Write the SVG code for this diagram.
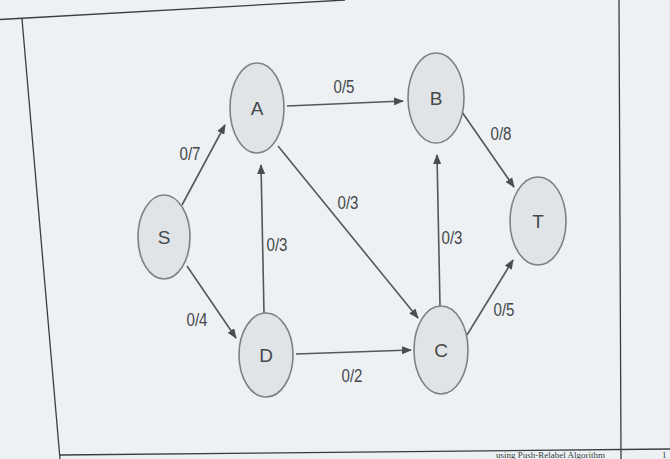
<svg xmlns="http://www.w3.org/2000/svg" width="670" height="459" viewBox="0 0 670 459">
<defs>
<marker id="ah" markerWidth="10" markerHeight="8" refX="9" refY="4" orient="auto" markerUnits="userSpaceOnUse">
<path d="M0,0 L10,4 L0,8 Z" fill="#4a4d50"/>
</marker>
<style>
.node ellipse{fill:#e1e4e6;stroke:#7d8184;stroke-width:1.6}
.node text{font-family:"Liberation Sans",sans-serif;font-size:19px;fill:#45484b;text-anchor:middle;dominant-baseline:central}
.edge line{stroke:#55585b;stroke-width:1.6;marker-end:url(#ah)}
.lbl{font-family:"Liberation Sans",sans-serif;font-size:18px;fill:#45484b;text-anchor:middle;dominant-baseline:central}
.rule{stroke:#3a3d40;stroke-width:1.3;fill:none}
.foot{font-family:"Liberation Serif",serif;font-size:9px;fill:#3a3d40}
</style>
</defs>
<rect width="670" height="459" fill="#edf1f3"/>
<g id="table">
<line class="rule" x1="0" y1="19.5" x2="345" y2="0"/>
<line class="rule" x1="22" y1="19" x2="60" y2="459"/>
<line class="rule" x1="619" y1="0" x2="621" y2="459"/>
<line class="rule" x1="60" y1="455" x2="670" y2="449"/>
<text class="foot" x="605" y="458" text-anchor="end">using Push-Relabel Algorithm</text>
<text class="foot" x="662" y="458">1</text>
</g>
<g id="connectors" class="edge">
<line x1="182" y1="205" x2="225" y2="125"/>
<line x1="287" y1="106" x2="403" y2="101"/>
<line x1="278" y1="146" x2="418" y2="318"/>
<line x1="264" y1="313" x2="261" y2="165"/>
<line x1="440" y1="306" x2="437" y2="155"/>
<line x1="462" y1="112" x2="514" y2="187"/>
<line x1="467" y1="335" x2="513" y2="260"/>
<line x1="187" y1="266" x2="236" y2="338"/>
<line x1="296" y1="354" x2="411" y2="350"/>
</g>
<g id="labels">
<text class="lbl" x="190" y="154" textLength="21" lengthAdjust="spacingAndGlyphs">0/7</text>
<text class="lbl" x="344" y="87" textLength="21" lengthAdjust="spacingAndGlyphs">0/5</text>
<text class="lbl" x="348" y="203" textLength="21" lengthAdjust="spacingAndGlyphs">0/3</text>
<text class="lbl" x="277" y="245" textLength="21" lengthAdjust="spacingAndGlyphs">0/3</text>
<text class="lbl" x="452" y="238" textLength="21" lengthAdjust="spacingAndGlyphs">0/3</text>
<text class="lbl" x="501" y="134" textLength="21" lengthAdjust="spacingAndGlyphs">0/8</text>
<text class="lbl" x="504" y="310" textLength="21" lengthAdjust="spacingAndGlyphs">0/5</text>
<text class="lbl" x="197" y="320" textLength="21" lengthAdjust="spacingAndGlyphs">0/4</text>
<text class="lbl" x="352" y="376" textLength="21" lengthAdjust="spacingAndGlyphs">0/2</text>
</g>
<g id="S" class="node"><ellipse cx="164" cy="237" rx="26" ry="42"/><text x="164" y="237">S</text></g>
<g id="A" class="node"><ellipse cx="257" cy="108" rx="27" ry="45"/><text x="257" y="108">A</text></g>
<g id="B" class="node"><ellipse cx="436" cy="98" rx="28" ry="45"/><text x="436" y="98">B</text></g>
<g id="T" class="node"><ellipse cx="538" cy="221" rx="28" ry="44"/><text x="538" y="221">T</text></g>
<g id="C" class="node"><ellipse cx="441" cy="350" rx="27" ry="44"/><text x="441" y="350">C</text></g>
<g id="D" class="node"><ellipse cx="266" cy="355" rx="27" ry="42"/><text x="266" y="355">D</text></g>
</svg>
